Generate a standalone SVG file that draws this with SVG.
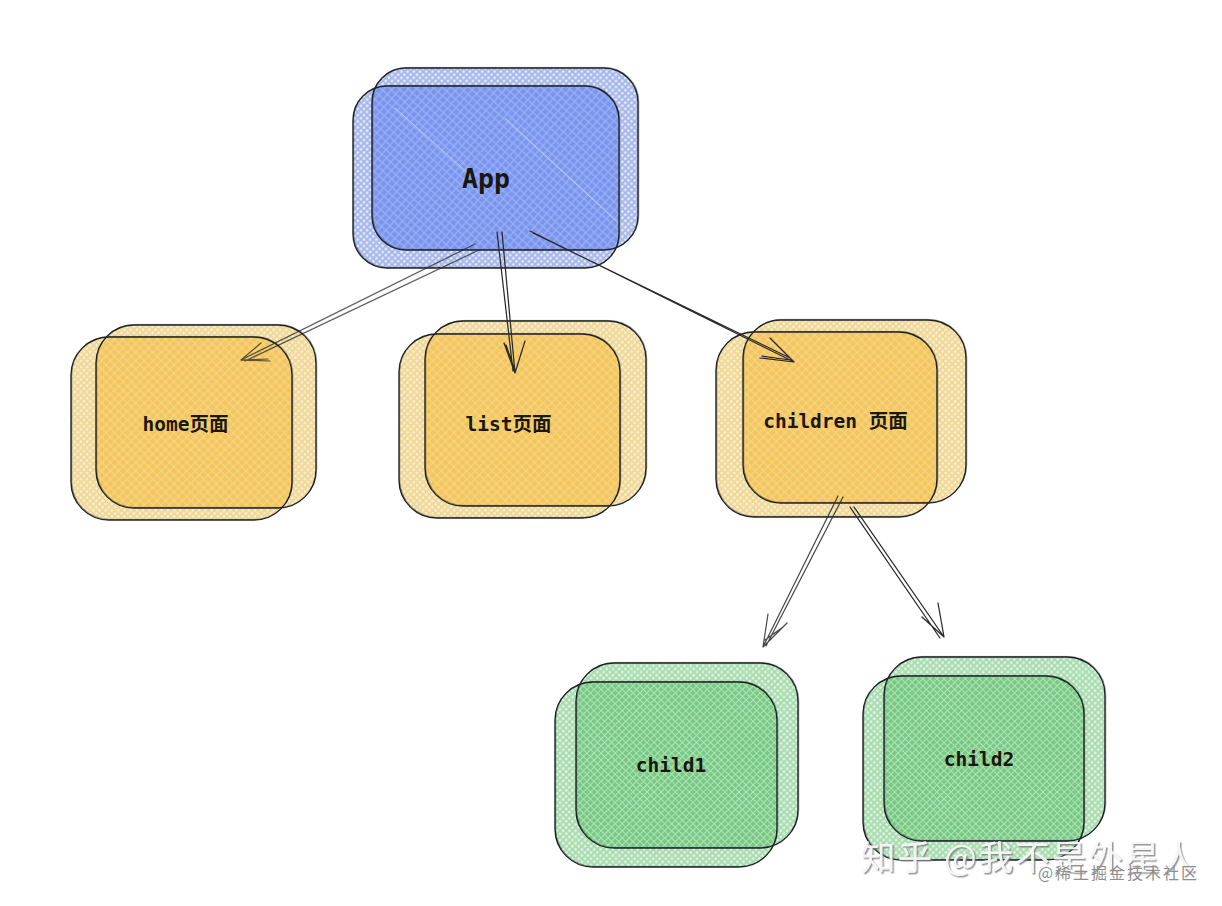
<svg xmlns="http://www.w3.org/2000/svg" width="1222" height="906" viewBox="0 0 1222 906">
<style>
.o{fill:none;stroke:#1f2328;stroke-width:1.4}
.s{fill:none;stroke:#1f2328;stroke-width:1;stroke-opacity:.4;transform:translate(.8px,-.6px)}
.l{font-family:"DejaVu Sans Mono","Noto Sans CJK SC",monospace;font-weight:700;font-size:19.5px;fill:#1a170f;text-anchor:middle}
.c path{fill:none;stroke:#2a2a2a;stroke-width:1.25;stroke-linecap:round;stroke-linejoin:round}
.wm{font-family:"Noto Sans CJK SC",sans-serif}
</style>
<defs>
<pattern id="bo" width="4.4" height="4.4" patternUnits="userSpaceOnUse" patternTransform="rotate(45)"><rect width="4.4" height="4.4" fill="#e6ebfa"/><path d="M2.2 0V4.4M0 2.200H4.4" stroke="#a3b5ea" stroke-width="1.9"/></pattern>
<pattern id="bi" width="6" height="6" patternUnits="userSpaceOnUse" patternTransform="rotate(42)"><rect width="6" height="6" fill="#7a95ef"/><path d="M3 0V6M0 3H6" stroke="#a4b8f5" stroke-width="1"/></pattern>
<pattern id="yo" width="4.4" height="4.4" patternUnits="userSpaceOnUse" patternTransform="rotate(45)"><rect width="4.4" height="4.4" fill="#f9f0d6"/><path d="M2.2 0V4.4M0 2.200H4.4" stroke="#efd692" stroke-width="1.9"/></pattern>
<pattern id="yi" width="6" height="6" patternUnits="userSpaceOnUse" patternTransform="rotate(45)"><rect width="6" height="6" fill="#f3c55c"/><path d="M3 0V6M0 3H6" stroke="#f8d98f" stroke-width="1"/></pattern>
<pattern id="go" width="4.4" height="4.4" patternUnits="userSpaceOnUse" patternTransform="rotate(45)"><rect width="4.4" height="4.4" fill="#e3f4e5"/><path d="M2.2 0V4.4M0 2.200H4.4" stroke="#a5dbac" stroke-width="1.9"/></pattern>
<pattern id="gi" width="5" height="5" patternUnits="userSpaceOnUse" patternTransform="rotate(45)"><rect width="5" height="5" fill="#78c984"/><path d="M2.5 0V5M0 2.500H5" stroke="#afe2b6" stroke-width="1.1"/></pattern>
<clipPath id="ca"><rect x="372" y="68" width="266" height="182" rx="34"/></clipPath>
<clipPath id="ch"><rect x="96" y="325" width="220" height="183" rx="38"/></clipPath>
<clipPath id="cl"><rect x="425" y="321" width="221" height="185" rx="38"/></clipPath>
<clipPath id="cc"><rect x="743" y="320" width="223" height="183" rx="38"/></clipPath>
<clipPath id="c1"><rect x="576" y="663" width="222" height="185" rx="38"/></clipPath>
<clipPath id="c2"><rect x="884" y="657" width="221" height="184" rx="38"/></clipPath>
<filter id="sh" x="-5%" y="-20%" width="110%" height="140%"><feDropShadow dx="1.500" dy="1.500" stdDeviation=".6" flood-color="#777" flood-opacity=".8"/></filter>
</defs>
<rect width="1222" height="906" fill="#fff"/>

<g id="app">
<rect x="372" y="68" width="266" height="182" rx="34" fill="url(#bo)"/>
<rect x="353" y="86" width="266" height="182" rx="34" fill="url(#bo)"/>
<rect x="353" y="86" width="266" height="182" rx="34" fill="url(#bi)" clip-path="url(#ca)"/>
<path d="M505 118L628 232M395 108L470 175" stroke="#cfdafa" stroke-width="1" fill="none" opacity=".7"/>
<rect class="o" x="372" y="68" width="266" height="182" rx="34"/>
<rect class="s" x="372" y="68" width="266" height="182" rx="34"/>
<rect class="o" x="353" y="86" width="266" height="182" rx="34"/>
<rect class="s" x="353" y="86" width="266" height="182" rx="34"/>
<text class="l" x="486" y="188" style="font-size:26.500px">App</text>
</g>

<g id="home">
<rect x="96" y="325" width="220" height="183" rx="38" fill="url(#yo)"/>
<rect x="71" y="337" width="221" height="183" rx="38" fill="url(#yo)"/>
<rect x="71" y="337" width="221" height="183" rx="38" fill="url(#yi)" clip-path="url(#ch)"/>
<rect class="o" x="96" y="325" width="220" height="183" rx="38"/>
<rect class="s" x="96" y="325" width="220" height="183" rx="38"/>
<rect class="o" x="71" y="337" width="221" height="183" rx="38"/>
<rect class="s" x="71" y="337" width="221" height="183" rx="38"/>
<text class="l" x="185.500" y="431">home页面</text>
</g>

<g id="list">
<rect x="425" y="321" width="221" height="185" rx="38" fill="url(#yo)"/>
<rect x="399" y="334" width="221" height="184" rx="38" fill="url(#yo)"/>
<rect x="399" y="334" width="221" height="184" rx="38" fill="url(#yi)" clip-path="url(#cl)"/>
<rect class="o" x="425" y="321" width="221" height="185" rx="38"/>
<rect class="s" x="425" y="321" width="221" height="185" rx="38"/>
<rect class="o" x="399" y="334" width="221" height="184" rx="38"/>
<rect class="s" x="399" y="334" width="221" height="184" rx="38"/>
<text class="l" x="508.500" y="431">list页面</text>
</g>

<g id="children">
<rect x="743" y="320" width="223" height="183" rx="38" fill="url(#yo)"/>
<rect x="716" y="332" width="221" height="185" rx="38" fill="url(#yo)"/>
<rect x="716" y="332" width="221" height="185" rx="38" fill="url(#yi)" clip-path="url(#cc)"/>
<rect class="o" x="743" y="320" width="223" height="183" rx="38"/>
<rect class="s" x="743" y="320" width="223" height="183" rx="38"/>
<rect class="o" x="716" y="332" width="221" height="185" rx="38"/>
<rect class="s" x="716" y="332" width="221" height="185" rx="38"/>
<text class="l" x="835.500" y="428">children 页面</text>
</g>

<g id="child1">
<rect x="576" y="663" width="222" height="185" rx="38" fill="url(#go)"/>
<rect x="555" y="682" width="222" height="185" rx="38" fill="url(#go)"/>
<rect x="555" y="682" width="222" height="185" rx="38" fill="url(#gi)" clip-path="url(#c1)"/>
<rect class="o" x="576" y="663" width="222" height="185" rx="38"/>
<rect class="s" x="576" y="663" width="222" height="185" rx="38"/>
<rect class="o" x="555" y="682" width="222" height="185" rx="38"/>
<rect class="s" x="555" y="682" width="222" height="185" rx="38"/>
<text class="l" x="671" y="772">child1</text>
</g>

<g id="child2">
<rect x="884" y="657" width="221" height="184" rx="38" fill="url(#go)"/>
<rect x="863" y="676" width="221" height="184" rx="38" fill="url(#go)"/>
<rect x="863" y="676" width="221" height="184" rx="38" fill="url(#gi)" clip-path="url(#c2)"/>
<rect class="o" x="884" y="657" width="221" height="184" rx="38"/>
<rect class="s" x="884" y="657" width="221" height="184" rx="38"/>
<rect class="o" x="863" y="676" width="221" height="184" rx="38"/>
<rect class="s" x="863" y="676" width="221" height="184" rx="38"/>
<text class="l" x="979" y="766">child2</text>
</g>

<g id="connectors" class="c">
<path d="M475 244L241 360M479 250L245 361M261 343L241 360L270 361M241 360L268 359" stroke-opacity=".75"/>
<path d="M497 232L513 371M502 232L515 373M504 343L515 373L525 341M506 345L514 368"/>
<path d="M530 231L794 362M533 233L790 358M770 338L794 362L760 358M762 356L790 360"/>
<path d="M838 496L763 647M843 497L766 646M768 614L763 647L787 623M765 640L783 627" stroke-opacity=".85"/>
<path d="M850 507L940 638M854 507L944 637M938 603L944 637L922 617"/>
</g>

<g id="watermark">
<text class="wm" x="861" y="870" font-size="34.500" fill="#f6f6f6" opacity=".95" textLength="335" filter="url(#sh)">知乎 @我不是外星人</text>
<text class="wm" x="1038" y="879" font-size="16" fill="#8d8d8d" textLength="159">@稀土掘金技术社区</text>
</g>
</svg>
